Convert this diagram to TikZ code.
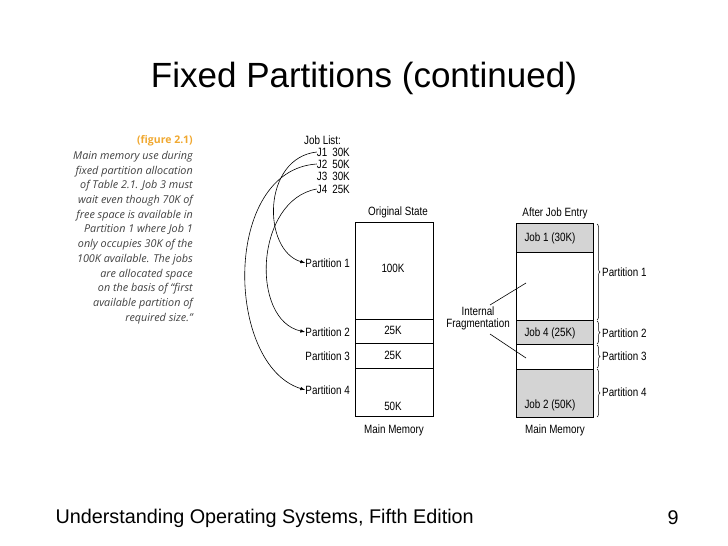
\documentclass[tikz,border=0pt]{standalone}
\usepackage{fontspec}
\setmainfont{Liberation Sans}
\newfontfamily\capfont{Open Sans}
\usetikzlibrary{decorations.pathreplacing,arrows.meta}
\newcommand{\nar}[1]{\scalebox{0.82}[1]{#1}}
\definecolor{fillg}{HTML}{D4D4D4}
\definecolor{orng}{HTML}{F0A830}
\begin{document}
\begin{tikzpicture}[x=1pt,y=-1pt,
  dt/.style={font=\fontsize{12}{13}\selectfont, inner sep=0pt},
  box/.style={draw, line width=0.8pt},
  jb/.style={box, fill=fillg},
  arr/.style={-{Latex[length=5pt,width=3.5pt]}, line width=0.6pt},
  brc/.style={decorate, decoration={brace, amplitude=3pt}, line width=0.5pt},
  captext/.style={font=\capfont\itshape\fontsize{10.8}{14.7}\selectfont, align=right, anchor=north east, inner sep=0pt, text=black!75}]
\useasboundingbox (0,0) rectangle (728,546);
\node (title) at (364,78) {\fontsize{35}{40}\selectfont Fixed Partitions (continued)};
\node[anchor=west] (foot) at (52,518) {\fontsize{19.8}{22}\selectfont Understanding Operating Systems, Fifth Edition};
\node (pg) at (673,518) {\fontsize{19.8}{22}\selectfont 9};
\node[captext, text=orng, font=\capfont\bfseries\fontsize{10.5}{12}\selectfont] (fig) at (193,135) {(figure 2.1)};
\node[captext] (captxt) at (193,151) {Main memory use during\\fixed partition allocation\\of Table 2.1. Job 3 must\\wait even though 70K of\\free space is available in\\Partition 1 where Job 1\\only occupies 30K of the\\100K available. The jobs\\are allocated space\\on the basis of “first\\available partition of\\required size.”};
% job list
\node[dt, anchor=west] (jl) at (304,140) {\nar{Job List:}};
\node[dt, anchor=east] (j1) at (350,152) {\nar{J1\hspace{6pt}30K}};
\node[dt, anchor=east] (j2) at (350,164) {\nar{J2\hspace{6pt}50K}};
\node[dt, anchor=east] (j3) at (350,176) {\nar{J3\hspace{6pt}30K}};
\node[dt, anchor=east] (j4) at (350,189) {\nar{J4\hspace{6pt}25K}};
% original state
\node[box, minimum width=78, minimum height=97, inner sep=0pt] (a1) at (394,270.5) {};
\node[box, minimum width=78, minimum height=24, inner sep=0pt] (a2) at (394,331) {};
\node[box, minimum width=78, minimum height=25, inner sep=0pt] (a3) at (394,355.5) {};
\node[box, minimum width=78, minimum height=48, inner sep=0pt] (a4) at (394,392) {};
\node[dt] (os) at (398,212) {\nar{Original State}};
\node[dt] (mm1) at (394,430) {\nar{Main Memory}};
\node[dt] (k1) at (393,268) {\nar{100K}};
\node[dt] (k2) at (393,330) {\nar{25K}};
\node[dt] (k3) at (393,355) {\nar{25K}};
\node[dt] (k4) at (393,406) {\nar{50K}};
\node[dt, anchor=east] (p1) at (350,263) {\nar{Partition 1}};
\node[dt, anchor=east] (p2) at (350,332) {\nar{Partition 2}};
\node[dt, anchor=east] (p3) at (350,356) {\nar{Partition 3}};
\node[dt, anchor=east] (p4) at (350,390) {\nar{Partition 4}};
\draw[arr] (j1.west) .. controls (262,158) and (262,250) .. (p1.west);
\draw[arr] (j2.west) .. controls (222,170) and (225,365) .. (p4.west);
\draw[arr] (j4.west) .. controls (255,200) and (250,320) .. (p2.west);
% after job entry
\node[jb, minimum width=77, minimum height=29, inner sep=0pt] (b1) at (554.5,237.5) {};
\node[box, minimum width=77, minimum height=68, inner sep=0pt] (b2) at (554.5,286) {};
\node[jb, minimum width=77, minimum height=24, inner sep=0pt] (b3) at (554.5,332) {};
\node[box, minimum width=77, minimum height=25, inner sep=0pt] (b4) at (554.5,356.5) {};
\node[jb, minimum width=77, minimum height=48, inner sep=0pt] (b5) at (554.5,393) {};
\node[dt] (aje) at (555,213) {\nar{After Job Entry}};
\node[dt] (mm2) at (555,430) {\nar{Main Memory}};
\node[dt] (jo1) at (550,238) {\nar{Job 1 (30K)}};
\node[dt] (jo4) at (550,333) {\nar{Job 4 (25K)}};
\node[dt] (jo2) at (550,405) {\nar{Job 2 (50K)}};
\node[dt, align=center] (frag) at (478,318) {\nar{Internal}\\[-1pt]\nar{Fragmentation}};
\coordinate (f1) at (526,283);
\coordinate (f2) at (526,358);
\draw[line width=0.6pt] (490,305) -- (f1);
\draw[line width=0.6pt] (490,334) -- (f2);
\draw[brc] (597,224) -- (597,320);
\draw[brc] (597,321) -- (597,344);
\draw[brc] (597,345) -- (597,368);
\draw[brc] (597,369) -- (597,417);
\node[dt, anchor=west] (q1) at (602,272) {\nar{Partition 1}};
\node[dt, anchor=west] (q2) at (602,333) {\nar{Partition 2}};
\node[dt, anchor=west] (q3) at (602,356) {\nar{Partition 3}};
\node[dt, anchor=west] (q4) at (602,392) {\nar{Partition 4}};
\end{tikzpicture}
\end{document}
